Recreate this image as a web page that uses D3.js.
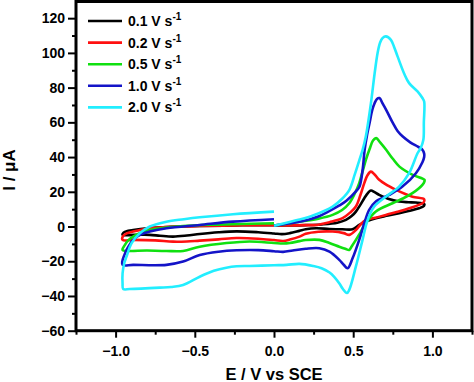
<!DOCTYPE html>
<html><head><meta charset="utf-8">
<script src="https://cdn.jsdelivr.net/npm/d3@7"></script>
<style>body{margin:0;background:#fff}svg{display:block}text{font-family:"Liberation Sans",Arial,sans-serif;font-weight:bold}</style>
</head><body><svg id="c" width="474" height="382"></svg>
<script>
const seriesNames = ["0.1 V s", "0.2 V s", "0.5 V s", "1.0 V s", "2.0 V s"];
const seriesColors = ["#000000", "#ff1010", "#10e010", "#1414c8", "#22eeff"];
const xTicks = [-1.0, -0.5, 0.0, 0.5, 1.0];
const yTicks = [-60, -40, -20, 0, 20, 40, 60, 80, 100, 120];

const cv01 = [[0,0.5],[0.1,0.6],[0.2,0.8],[0.3,1.2],[0.4,2.2],[0.454,3.8],[0.49,6],[0.517,8.6],[0.545,12.5],[0.570,16.3],[0.595,19.5],[0.612,20.7],[0.635,19.8],[0.664,18.2],[0.72,16],[0.790,14.4],[0.85,14],[0.895,13.8],[0.948,13],
 [0.948,12],[0.916,10.5],[0.85,9],[0.790,7.7],[0.72,6.3],[0.643,4.8],[0.58,2.8],[0.538,0.9],[0.496,-1.6],[0.433,-1.6],[0.35,-1.4],[0.266,-1.0],[0.2,-1.6],[0.16,-2.5],[0.1,-3.8],[0.05,-4.4],[0,-4],[-0.1,-3.3],[-0.236,-2.8],[-0.35,-3.3],[-0.469,-4.3],[-0.55,-5.2],[-0.637,-5.8],[-0.72,-5.3],[-0.784,-4.8],[-0.88,-4.8],[-0.956,-4.8],
 [-0.95,-3.5],[-0.92,-2.5],[-0.889,-2],[-0.8,-1],[-0.7,-0.4],[-0.6,0],[-0.469,0.3],[-0.2,0.7],[0,0.9]];
const cv02 = [[0,0.5],[0.1,0.6],[0.2,0.8],[0.266,0.9],[0.35,2.5],[0.433,4.8],[0.48,8],[0.517,11.5],[0.545,18],[0.570,25],[0.59,29.5],[0.612,31.6],[0.635,30],[0.664,26.9],[0.72,23.5],[0.770,21.1],[0.874,17.2],[0.948,15.7],
 [0.948,14.5],[0.937,13.4],[0.853,10.5],[0.78,8.5],[0.706,6.7],[0.640,5],[0.580,3.8],[0.545,1],[0.517,-2],[0.475,-4.8],[0.44,-3.8],[0.370,-2.9],[0.28,-3],[0.2,-4.2],[0.161,-5.8],[0.1,-7.5],[0.058,-8.3],[0,-7.8],[-0.1,-7],[-0.236,-6.6],[-0.35,-7.4],[-0.469,-8.1],[-0.55,-8.6],[-0.637,-8.7],[-0.75,-8],[-0.889,-7.7],[-0.956,-7.7],
 [-0.955,-5.8],[-0.93,-4],[-0.889,-2.9],[-0.784,-1],[-0.6,0],[-0.469,0.3],[-0.2,0.7],[0,0.9]];
const cv05 = [[0,0.5],[0.161,2.8],[0.28,4.5],[0.370,6.7],[0.43,9.5],[0.475,13.4],[0.51,19],[0.538,25],[0.56,32],[0.580,38.4],[0.603,44.5],[0.625,49.5],[0.645,50.9],[0.67,48.5],[0.708,44.2],[0.75,39],[0.792,34.5],[0.876,29.7],[0.950,26.9],
 [0.950,26],[0.937,24],[0.874,19.2],[0.81,16],[0.748,13.4],[0.643,8.6],[0.58,1.9],[0.545,-3.5],[0.517,-7.7],[0.49,-11.5],[0.475,-13.5],[0.45,-12.8],[0.412,-11.6],[0.35,-9.5],[0.286,-7.7],[0.2,-7.8],[0.161,-8.4],[0.1,-9.5],[0.058,-9.8],[0,-9.5],[-0.154,-8.6],[-0.3,-9.5],[-0.469,-11.6],[-0.574,-14.1],[-0.679,-14.1],[-0.8,-13.8],[-0.956,-13.5],
 [-0.941,-10.6],[-0.92,-8],[-0.889,-5.8],[-0.84,-3.5],[-0.784,-2],[-0.68,-0.6],[-0.574,0.3],[-0.4,1],[-0.259,1.3],[0,1.9]];
const cv10 = [[0,0.5],[0.184,3.2],[0.28,5.8],[0.351,9],[0.41,12],[0.457,14.8],[0.520,20.5],[0.540,23],[0.56,33],[0.572,44],[0.588,53],[0.603,59.5],[0.62,67],[0.635,71],[0.650,73.5],[0.666,74],[0.685,71],[0.708,67.2],[0.751,59.5],[0.78,55],[0.813,51.8],[0.86,48.5],[0.908,46],[0.935,44.5],[0.948,42],
 [0.948,40],[0.937,37],[0.896,30.7],[0.811,23],[0.727,18.2],[0.643,14.4],[0.601,9.6],[0.570,1.9],[0.538,-7.7],[0.496,-18.3],[0.465,-24],[0.44,-22],[0.412,-19.2],[0.35,-14.5],[0.286,-12.5],[0.2,-12.8],[0.118,-13.8],[0.058,-14.6],[0,-14.2],[-0.1,-13.6],[-0.236,-13.7],[-0.35,-14.5],[-0.469,-16.4],[-0.574,-20.2],[-0.679,-22.1],[-0.889,-22.1],[-0.956,-22.1],
 [-0.958,-20.2],[-0.945,-16.5],[-0.931,-13.5],[-0.889,-7.7],[-0.84,-4.5],[-0.784,-2.9],[-0.679,-1],[-0.469,0.9],[-0.259,2.8],[0,4.2]];
const cv20 = [[0,0.5],[0.161,4.0],[0.25,6.5],[0.370,11.5],[0.43,16],[0.475,21],[0.51,30],[0.538,38],[0.559,44],[0.58,52],[0.612,71],[0.635,88],[0.654,100],[0.670,106],[0.685,108.5],[0.706,109.5],[0.738,107.5],[0.760,103],[0.780,98],[0.822,88],[0.853,82.6],[0.906,77.8],[0.937,74],[0.948,72],
 [0.946,60],[0.943,50],[0.925,45],[0.906,42.2],[0.853,30.7],[0.790,23],[0.706,17.2],[0.633,11.5],[0.591,3.8],[0.559,-7.7],[0.517,-23],[0.475,-36.5],[0.460,-38.3],[0.435,-36],[0.414,-33],[0.38,-29],[0.351,-26.5],[0.3,-24],[0.247,-22.7],[0.161,-21.5],[0.079,-22.1],[0,-22.3],[-0.154,-22.7],[-0.236,-22.9],[-0.301,-23.7],[-0.38,-25.5],[-0.469,-28.9],[-0.574,-33.7],[-0.65,-34.8],[-0.721,-35.2],[-0.910,-36],[-0.952,-36],
 [-0.956,-33],[-0.956,-27],[-0.945,-21],[-0.931,-17.3],[-0.899,-9.6],[-0.847,-3.9],[-0.784,0],[-0.679,2.8],[-0.569,4.2],[-0.469,5.3],[-0.259,7.1],[0,8.6]];
const allSeries = [cv01, cv02, cv05, cv10, cv20];

const FONT = "Liberation Sans, Arial, sans-serif";
const svg = d3.select("#c");
const x = d3.scaleLinear().domain([-1.25, 1.25]).range([76, 472]);
const y = d3.scaleLinear().domain([-60, 129.6]).range([330.7, 1.5]);

const line = d3.line().x(d => x(d[0])).y(d => y(d[1])).curve(d3.curveCatmullRom.alpha(0.5));
svg.append("g").selectAll("path").data(allSeries).join("path")
  .attr("d", line).attr("fill", "none")
  .attr("stroke", (d, i) => seriesColors[i]).attr("stroke-width", 2.6)
  .attr("stroke-linejoin", "round");

// Axes
const xAxis = d3.axisBottom(x).tickValues(xTicks).tickFormat(d3.format(".1f")).tickSize(7).tickPadding(8);
const gx = svg.append("g").attr("transform", `translate(0,${y(-60)})`).call(xAxis);
const yAxis = d3.axisLeft(y).tickValues(yTicks).tickFormat(d3.format("d")).tickSize(8).tickPadding(3);
const gy = svg.append("g").attr("transform", `translate(${x(-1.25)},0)`).call(yAxis);
const xMinor = d3.axisBottom(x).tickValues([-1.25, -0.75, -0.25, 0.25, 0.75, 1.25]).tickFormat("").tickSize(4);
svg.append("g").attr("transform", `translate(0,${y(-60)})`).call(xMinor);
const yMinor = d3.axisLeft(y).tickValues([-50, -30, -10, 10, 30, 50, 70, 90, 110]).tickFormat("").tickSize(4);
svg.append("g").attr("transform", `translate(${x(-1.25)},0)`).call(yMinor);
svg.selectAll(".domain").remove();
svg.selectAll("g").attr("font-family", FONT);
svg.selectAll(".tick line").attr("stroke", "#000").attr("stroke-width", 2);
gx.selectAll("text").attr("font-size", 14).attr("font-weight", "bold").attr("fill", "#000");
gy.selectAll("text").attr("font-size", 14).attr("font-weight", "bold").attr("fill", "#000");

// Frame
svg.append("rect").attr("x", x(-1.25)).attr("y", y(129.6)).attr("width", x(1.25) - x(-1.25))
  .attr("height", y(-60) - y(129.6)).attr("fill", "none").attr("stroke", "#000").attr("stroke-width", 3);

// Axis titles
svg.append("text").attr("x", 274).attr("y", 380).attr("text-anchor", "middle").attr("font-family", FONT)
  .attr("font-weight", "bold").attr("font-size", 16.5).text("E / V vs SCE");
svg.append("text").attr("transform", "translate(15,170) rotate(-90)").attr("text-anchor", "middle")
  .attr("font-family", FONT).attr("font-weight", "bold").attr("font-size", 17).text("I / μA");

// Legend
const leg = svg.append("g").attr("font-family", FONT).selectAll("g").data(seriesNames).join("g")
  .attr("transform", (d, i) => `translate(88,${21 + i * 21.6})`);
leg.append("line").attr("x1", 0).attr("x2", 34).attr("y1", 0).attr("y2", 0)
  .attr("stroke", (d, i) => seriesColors[i]).attr("stroke-width", 2.6);
const lt = leg.append("text").attr("x", 40).attr("y", 5).attr("font-size", 14)
  .attr("font-family", FONT).attr("font-weight", "bold");
lt.append("tspan").text(d => d);
lt.append("tspan").attr("font-size", 10).attr("dy", -6).text("-1");
</script></body></html>
